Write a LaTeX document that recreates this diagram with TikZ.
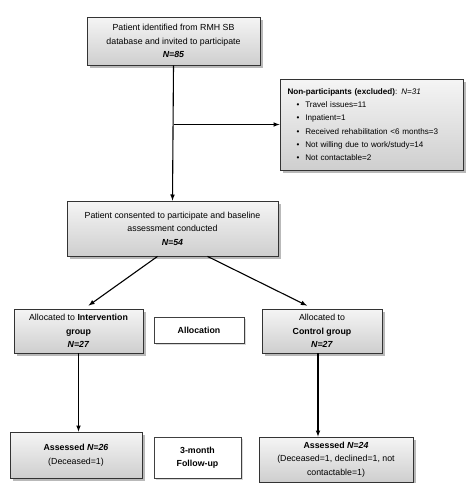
\documentclass[tikz,border=0pt]{standalone}
\usepackage{fontspec}
\setmainfont{Liberation Sans}
\usepackage{tikz}
\usetikzlibrary{arrows}
\usetikzlibrary{shadows}
\usetikzlibrary{positioning}
\tikzset{
  flowbox/.style={draw=black!80, line width=0.8pt, top color=gray!8, bottom color=gray!38,
    drop shadow={shadow xshift=2.5pt, shadow yshift=-2.5pt, fill=black!55},
    align=center, inner sep=2pt, font=\fontsize{8.8}{13.5}\selectfont},
  stagebox/.style={draw=black!75, line width=0.6pt, fill=white,
    drop shadow={shadow xshift=1.5pt, shadow yshift=-1.5pt, fill=black!30},
    align=center, font=\fontsize{8.8}{13.5}\selectfont\bfseries},
  flow/.style={->, >=latex, line width=1.1pt}
}
\newcommand{\exitem}{\hspace*{9pt}\textbullet\hspace{6pt}}
\begin{document}
\begin{tikzpicture}[x=1pt, y=-1pt]
  \useasboundingbox (0,0) rectangle (474,483);
  \node[flowbox, minimum width=173pt, minimum height=48pt] (identified) at (173.5,41)
    {Patient identified from RMH SB\\database and invited to participate\\\textbf{\textit{N=85}}};
  \node[flowbox, minimum width=183pt, minimum height=91pt, align=left, text width=168pt,
    font=\fontsize{8.1}{13.3}\selectfont] (excluded) at (371.5,124.5)
    {\textbf{Non-participants (excluded)}: \textit{N=31}\\
     \exitem Travel issues=11\\
     \exitem Inpatient=1\\
     \exitem Received rehabilitation <6 months=3\\
     \exitem Not willing due to work/study=14\\
     \exitem Not contactable=2};
  \node[flowbox, minimum width=211pt, minimum height=55pt] (consented) at (172.5,228.5)
    {Patient consented to participate and baseline\\assessment conducted\\\textbf{\textit{N=54}}};
  \node[flowbox, minimum width=129pt, minimum height=44pt] (intervention) at (78.5,331)
    {Allocated to \textbf{Intervention}\\\textbf{group}\\\textbf{\textit{N=27}}};
  \node[stagebox, minimum width=90pt, minimum height=26pt] (allocation) at (199,330) {Allocation};
  \node[flowbox, minimum width=120pt, minimum height=44pt] (control) at (322,331)
    {Allocated to\\\textbf{Control group}\\\textbf{\textit{N=27}}};
  \node[flowbox, minimum width=132pt, minimum height=46pt] (assessedI) at (76,455)
    {\textbf{Assessed \textit{N=26}}\\(Deceased=1)};
  \node[stagebox, minimum width=87pt, minimum height=41pt] (followup) at (197.5,457.5) {3-month\\Follow-up};
  \node[flowbox, minimum width=154pt, minimum height=45pt] (assessedC) at (336,459.5)
    {\textbf{Assessed \textit{N=24}}\\(Deceased=1, declined=1, not\\contactable=1)};
  \draw[flow] (identified.south) -- (consented.north);
  \draw[flow] (identified.south |- excluded.west) -- (excluded.west);
  \draw[flow] ([xshift=-15pt]consented.south) -- ([xshift=10pt,yshift=3pt]intervention.north);
  \draw[flow] ([xshift=35pt]consented.south) -- ([xshift=-15pt,yshift=3pt]control.north);
  \draw[flow] (intervention.south) -- (intervention.south |- assessedI.north);
  \draw[flow] ([xshift=-4pt]control.south) -- ([xshift=-4pt]control.south |- assessedC.north);
\end{tikzpicture}
\end{document}
